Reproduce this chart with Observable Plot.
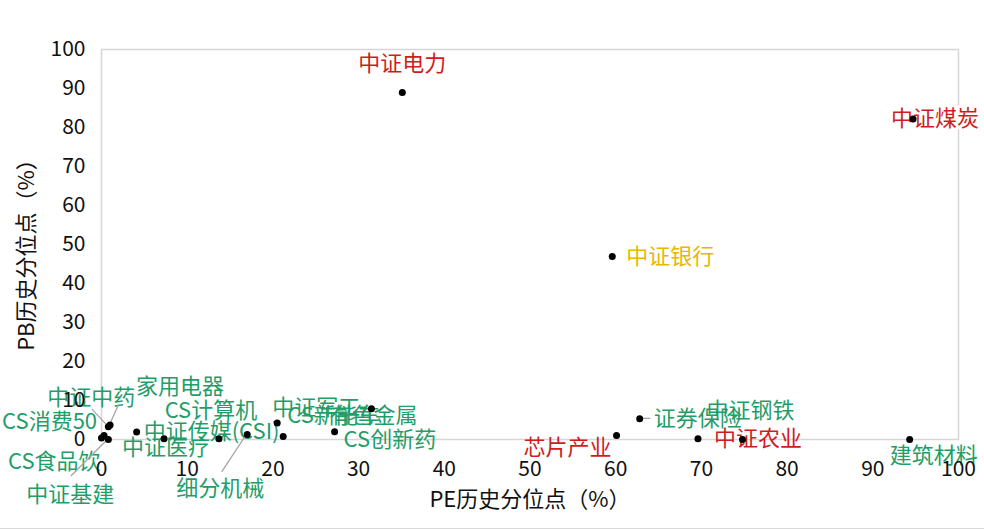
<!DOCTYPE html>
<html><head><meta charset="utf-8">
<script src="https://cdn.jsdelivr.net/npm/d3@7"></script>
<script src="https://cdn.jsdelivr.net/npm/@observablehq/plot@0.6"></script>
<style>
body{margin:0;background:#fff}
#chart svg{display:block;border-bottom:1px solid #d9d9d9}
</style>
</head><body><div id="chart"></div>
<script>
// ---- data ----
const names = ["中证电力","中证煤炭","中证银行","证券保险","中证钢铁","中证农业","芯片产业","建筑材料",
  "中证传媒(CSI)","中证医疗","CS计算机","细分机械","中证军工","CS新能车","有色金属","CS创新药",
  "中证中药","家用电器","CS消费50","CS食品饮","中证基建"];
const peRank = [35.1,94.7,59.6,62.8,74.8,69.6,60.1,94.3,
  4.1,7.3,13.7,17.0,20.5,21.2,31.5,27.2,
  0.8,1.0,0.3,0.0,0.8];
const pbRank = [89.0,82.2,46.9,5.3,0.0,0.2,1.0,0.0,
  1.9,0.2,0.2,1.3,4.2,0.8,7.9,2.0,
  3.3,3.7,1.0,0.4,0.0];
const group = ["red","red","gold","green","green","red","red","green",
  "green","green","green","green","green","green","green","green",
  "green","green","green","green","green"];
const xTicks = [0,10,20,30,40,50,60,70,80,90,100];
const yTicks = [0,10,20,30,40,50,60,70,80,90,100];
const xTitle = "PE历史分位点（%）";
const yTitle = "PB历史分位点（%）";

// ---- styles ----
const colors = {red:"#d01c1c", gold:"#e6b800", green:"#1f9e68"};
// label placement (pixel offsets from the point), anchor, optional leader offset
const place = {
  "中证电力":{a:"middle",dx:0,dy:-28},
  "中证煤炭":{a:"middle",dx:22,dy:0,halo:true},
  "中证银行":{a:"start",dx:14,dy:0},
  "证券保险":{a:"start",dx:14,dy:0,lead:[11,0]},
  "中证钢铁":{a:"middle",dx:8,dy:-29},
  "中证农业":{a:"start",dx:16,dy:0},
  "芯片产业":{a:"end",dx:-5,dy:12},
  "建筑材料":{a:"middle",dx:24,dy:16},
  "中证传媒(CSI)":{a:"start",dx:7,dy:0},
  "中证医疗":{a:"middle",dx:2,dy:9},
  "CS计算机":{a:"middle",dx:-8,dy:-28},
  "细分机械":{a:"middle",dx:-27,dy:55,lead:[-25,38]},
  "中证军工":{a:"start",dx:-5,dy:-15},
  "CS新能车":{a:"start",dx:4,dy:-20},
  "有色金属":{a:"middle",dx:2,dy:7},
  "CS创新药":{a:"start",dx:9,dy:8},
  "中证中药":{a:"middle",dx:-17,dy:-29,lead:[-16,-17]},
  "家用电器":{a:"middle",dx:70,dy:-38,lead:[9,-20]},
  "CS消费50":{a:"end",dx:-7,dy:-14},
  "CS食品饮":{a:"end",dx:-1,dy:24},
  "中证基建":{a:"middle",dx:-38,dy:55,lead:[-37,37]}
};

const rows = names.map((n,i)=>({name:n, pe:peRank[i], pb:pbRank[i], g:group[i]}));

const labelMarks = rows.map(r => {
  const p = place[r.name];
  return Plot.text([r], {
    x:"pe", y:"pb", text:"name", textAnchor:p.a, dx:p.dx, dy:p.dy,
    fill: colors[r.g], fontSize:22,
    ...(p.halo ? {stroke:"white", strokeWidth:6} : {})
  });
});

const leaders = (index, scales) => {
  const g = d3.create("svg:g").attr("stroke","#a6a6a6").attr("stroke-width",1.3);
  rows.forEach(r => {
    const p = place[r.name];
    if (!p.lead) return;
    const x0 = scales.x(r.pe), y0 = scales.y(r.pb);
    g.append("line").attr("x1",x0).attr("y1",y0).attr("x2",x0+p.lead[0]).attr("y2",y0+p.lead[1]);
  });
  return g.node();
};

const chart = Plot.plot({
  width:984, height:528,
  marginLeft:101, marginRight:26, marginTop:49, marginBottom:89,
  style:{fontFamily:"'Noto Sans CJK SC','Noto Sans',sans-serif", fontSize:"21px", color:"#111", background:"#fff"},
  x:{domain:[0,100], label:null},
  y:{domain:[0,100], label:null},
  marks:[
    Plot.frame({stroke:"#d6d6d6", strokeWidth:1.5}),
    ...labelMarks,
    leaders,
    Plot.dot(rows, {x:"pe", y:"pb", r:3.5, fill:"#000", stroke:null}),
    Plot.axisX({ticks:xTicks, tickSize:0, tickPadding:22, fontSize:21, label:null, tickFormat:d=>String(d)}),
    Plot.axisY({ticks:yTicks, tickSize:0, tickPadding:16, fontSize:21, label:null, tickFormat:d=>String(d)}),
    Plot.text([xTitle], {frameAnchor:"bottom", textAnchor:"middle", dy:67, fontSize:22, fill:"#111"}),
    Plot.text([yTitle], {frameAnchor:"left", textAnchor:"middle", dx:-75, dy:5, rotate:-90, fontSize:22, fill:"#111"})
  ]
});
document.getElementById("chart").appendChild(chart);
</script>
</body></html>
